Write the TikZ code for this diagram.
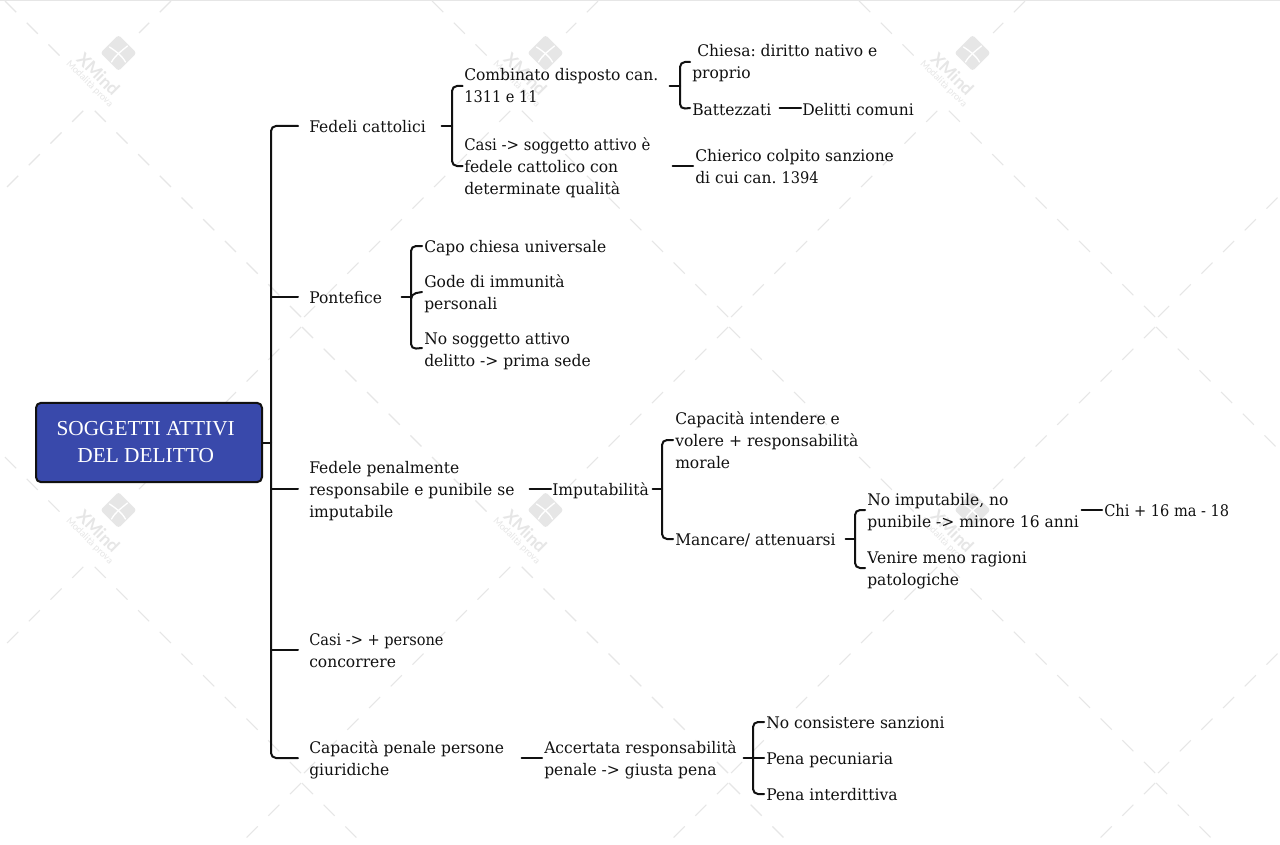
\documentclass[tikz,border=0pt]{standalone}
\usepackage{fontspec}
\usetikzlibrary{calc}
\setmainfont{DejaVu Serif}[FakeStretch=0.97]
\newfontfamily\tightfont{DejaVu Serif}[FakeStretch=0.91]
\newfontfamily\midfont{DejaVu Serif}[FakeStretch=0.93]
\newfontfamily\rootfont{Liberation Serif}
\newfontfamily\wmfont{Lato}
\definecolor{wmgrey}{HTML}{E6E6E6}
\definecolor{rootblue}{HTML}{3949AB}
\definecolor{inkc}{HTML}{111111}
\tikzset{
  x=0.75pt,y=-0.75pt,
  conn/.style={draw=inkc,line width=1.5pt,line cap=round,rounded corners=3.75pt},
  wmline/.style={draw=wmgrey,line width=0.8pt,dash pattern=on 11.7pt off 11.3pt},
  lab/.style={anchor=west,inner sep=0pt,font=\fontsize{12pt}{16.5pt}\selectfont,text=inkc},
}
\newcommand{\lbl}[5]{\pgfmathsetmacro{\lblw}{(#3-#2)*0.75}\node[lab] (#1) at (#2,#4) {\frenchspacing\makebox[\lblw pt][l]{\raisebox{-1.5pt}[\height][\depth]{\begin{tabular}{@{}l@{}}#5\end{tabular}}}};}
\begin{document}
\begin{tikzpicture}
\useasboundingbox (0,0) rectangle (1280,845);
\fill[white] (0,0) rectangle (1280,845);
\begin{scope}
\clip (0,0) rectangle (1280,845);
\foreach \cx in {-126,301,728,1155,1582}
  \foreach \cy in {-134,322,778}{
    \draw[wmline] ({\cx},{\cy-5}) -- ({\cx-207},{\cy-212});
    \draw[wmline] ({\cx+1},{\cy+5}) -- ({\cx+188},{\cy+192});
    \draw[wmline] ({\cx+3},{\cy-5}) -- ({\cx+212},{\cy-214});
    \draw[wmline] ({\cx},{\cy+5}) -- ({\cx-162},{\cy+167});
  }
\foreach \lx in {118.5,545.5,972.5}
  \foreach \ly in {53,510}{
    \begin{scope}[shift={(\lx,\ly)}]
      \fill[wmgrey,rounded corners=2pt] (0,-18) -- (18,0) -- (0,18) -- (-18,0) -- cycle;
      \draw[white,line width=1pt,line cap=round] (-9,-6) .. controls (-3,-2) and (3,2) .. (7,9);
      \draw[white,line width=1pt,line cap=round] (9,-7) .. controls (3,-2) and (-3,2) .. (-7,9);
      \node[rotate=-45,inner sep=0pt,text=wmgrey,font=\wmfont\bfseries\fontsize{13pt}{13pt}\selectfont] at (-20,21) {XMind};
      \node[rotate=-45,inner sep=0pt,text=wmgrey,font=\wmfont\fontsize{7pt}{7pt}\selectfont] at (-29,31) {Modalità prova};
    \end{scope}
  }
\draw[draw=wmgrey,line width=0.8pt] (0,0.5) -- (1280,0.5);
\end{scope}

\node[draw=inkc,fill=rootblue,line width=1.5pt,rounded corners=3.75pt,minimum width=169.5pt,minimum height=59.5pt,inner sep=0pt,align=center,text=white,font=\rootfont\fontsize{16pt}{20.2pt}\selectfont] (root) at (149,442.5) {\hspace*{-5pt}SOGGETTI ATTIVI\\\hspace*{-5pt}DEL DELITTO};

\lbl{f1}{309}{425}{126}{Fedeli cattolici}
\lbl{f2}{309}{383}{297}{Pontefice}
\lbl{f3}{309}{517}{489}{Fedele penalmente\\responsabile e punibile se\\imputabile}
\lbl{f4}{309}{443}{650}{{\tightfont Casi -> + persone}\\concorrere}
\lbl{f5}{309}{504}{758}{Capacità penale persone\\giuridiche}

\lbl{a1}{464}{660}{85}{Combinato disposto can.\\{\tightfont 1311 e 11}}
\lbl{a2}{464}{650}{166}{{\midfont Casi -> soggetto attivo è}\\fedele cattolico con\\determinate qualità}
\lbl{b1}{692}{877}{61}{\hspace*{3.75pt}Chiesa: diritto nativo e\\proprio}
\lbl{b2}{692}{771}{109}{Battezzati}
\lbl{b3}{802}{916}{109}{Delitti comuni}
\lbl{c1}{695}{896}{166}{Chierico colpito sanzione\\di cui can. {\tightfont 1394}}

\lbl{p1}{424}{607}{246}{Capo chiesa universale}
\lbl{p2}{424}{568}{292}{Gode di immunità\\personali}
\lbl{p3}{424}{587}{349}{No soggetto attivo\\delitto -> prima sede}

\lbl{i0}{552}{651}{489}{Imputabilità}
\lbl{i1}{675}{858}{440}{Capacità intendere e\\volere + responsabilità\\morale}
\lbl{i2}{675}{837}{539}{Mancare/ attenuarsi}
\lbl{i3}{867}{1079}{510}{No imputabile, no\\punibile -> minore 16 anni}
\lbl{i4}{867}{1030}{568}{Venire meno ragioni\\patologiche}
\lbl{i5}{1104}{1229}{510}{{\tightfont Chi + 16 ma - 18}}

\lbl{g0}{544}{737}{758}{Accertata responsabilità\\penale -> giusta pena}
\lbl{g1}{766}{945}{722}{No consistere sanzioni}
\lbl{g2}{766}{896}{758}{Pena pecuniaria}
\lbl{g3}{766}{900}{794}{Pena interdittiva}

% trunks
\coordinate (T0) at (271,442.5);
\coordinate (T1) at (452,126);
\coordinate (T2) at (680,85);
\coordinate (T3) at (411,297);
\coordinate (T4) at (662,489);
\coordinate (T5) at (855,539);
\coordinate (T6) at (753,758);

% root to first-level topics
\draw[conn] (root.east) -- (T0);
\draw[conn] ($(f1.west)+(-11,0)$) -- (f1.west -| T0) -- (f5.west -| T0) -- ($(f5.west)+(-11,0)$);
\foreach \n in {f2,f3,f4}{\draw[conn] (\n.west -| T0) -- ($(\n.west)+(-11,0)$);}

% Fedeli cattolici
\draw[conn] ($(f1.east)+(16,0)$) -- (T1);
\draw[conn] ($(a1.west)+(-1.5,1)$) -- ($(a1.west -| T1)+(0,1)$) -- (a2.west -| T1) -- ($(a2.west)+(-1.5,0)$);
\draw[conn] ($(a1.east)+(9,1)$) -- ($(T2)+(0,1)$);
\draw[conn] ($(b1.west)+(-2,1)$) -- ($(b1.west -| T2)+(0,1)$) -- (b2.west -| T2) -- ($(b2.west)+(-2,-1)$);
\draw[conn] ($(b2.east)+(8,-1)$) -- ($(b3.west)+(-1,-1)$);
\draw[conn] ($(a2.east)+(22,0)$) -- ($(c1.west)+(-2,0)$);

% Pontefice
\draw[conn] ($(f2.east)+(18,0)$) -- (T3);
\draw[conn] ($(p1.west)+(-2,0)$) -- (p1.west -| T3) -- (p3.west -| T3) -- ($(p3.west)+(-2,-1)$);
\draw[conn] (T3) -- ($(p2.west -| T3)+(0,2)$) -- ($(p2.west)+(-2,0)$);

% Fedele penalmente
\draw[conn] ($(f3.east)+(12,0)$) -- ($(i0.west)+(-1,0)$);
\draw[conn] ($(i0.east)+(1,0)$) -- (T4);
\draw[conn] ($(i1.west)+(-2,0)$) -- (i1.west -| T4) -- (i2.west -| T4) -- ($(i2.west)+(-2,0)$);
\draw[conn] ($(i2.east)+(8,0)$) -- (T5);
\draw[conn] ($(i3.west)+(-2,0)$) -- (i3.west -| T5) -- (i4.west -| T5) -- ($(i4.west)+(-2,0)$);
\draw[conn] ($(i3.east)+(2,0)$) -- ($(i5.west)+(-2,0)$);

% Capacita penale
\draw[conn] ($(f5.east)+(17,0)$) -- ($(g0.west)+(-2,0)$);
\draw[conn] ($(g0.east)+(6,0)$) -- ($(g2.west)+(-2,0)$);
\draw[conn] ($(g1.west)+(-2,0)$) -- (g1.west -| T6) -- (g3.west -| T6) -- ($(g3.west)+(-2,0)$);
\end{tikzpicture}
\end{document}
